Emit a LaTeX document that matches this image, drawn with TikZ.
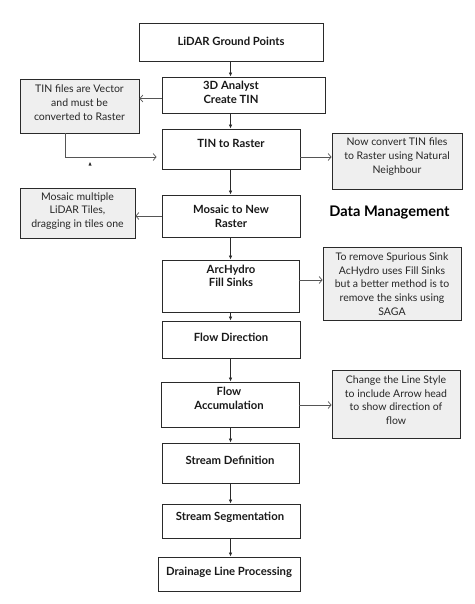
\documentclass[tikz,border=0pt]{standalone}
\usepackage{fontspec}
\setmainfont{Lato}
\usetikzlibrary{arrows.meta}
\definecolor{edge}{HTML}{2A2A2A}
\definecolor{notefill}{HTML}{EFEFEF}
\tikzset{
  proc/.style={draw=edge, line width=0.9pt, fill=white, inner sep=0pt},
  note/.style={draw=edge, line width=0.9pt, fill=notefill, inner sep=0pt},
  ptext/.style={font=\fontsize{11.3}{13.5}\selectfont\bfseries, align=center, inner sep=0pt, text=black!90},
  ntext/.style={font=\fontsize{10.5}{13.6}\selectfont, align=center, inner sep=0pt, text=black!85},
  down/.style={draw=edge, line width=0.8pt, -{Latex[length=4pt,width=3.6pt]}},
  side/.style={draw=edge!80, line width=0.7pt, -{Straight Barb[length=3pt,width=7pt]}},
}
\newcommand{\boxat}[6]{% style, name, x1, y1, x2, y2
  \node[#1, minimum width={(#5-#3)*1pt}, minimum height={(#6-#4)*1pt}] (#2) at ({(#3+#5)/2}, {(#4+#6)/2}) {};}
\begin{document}
\begin{tikzpicture}[x=1pt, y=-1pt]
\useasboundingbox (0,0) rectangle (474,604);
% main process boxes
\boxat{proc}{lidar}{139}{23}{323}{61}
\node[ptext] (tlidar) at (231,41) {LiDAR Ground Points};
\boxat{proc}{tin}{162}{77}{325}{113}
\node[ptext] (ttin) at (231,92.5) {3D Analyst\\Create TIN};
\boxat{proc}{raster}{162}{129}{300}{169}
\node[ptext] (traster) at (231,143) {TIN to Raster};
\boxat{proc}{mosaic}{162}{195}{300}{237}
\node[ptext] (tmosaic) at (231,216.5) {Mosaic to New\\Raster};
\boxat{proc}{fill}{162}{260}{299}{312}
\node[ptext] (tfill) at (231,276) {ArcHydro\\Fill Sinks};
\boxat{proc}{fdir}{162}{321}{300}{358}
\node[ptext] (tfdir) at (231,337) {Flow Direction};
\boxat{proc}{facc}{161}{382}{299}{427}
\node[ptext] (tfacc) at (229,398.5) {Flow\\Accumulation};
\boxat{proc}{sdef}{162}{443}{299}{483}
\node[ptext] (tsdef) at (230,460) {Stream Definition};
\boxat{proc}{sseg}{162}{504}{300}{538}
\node[ptext] (tsseg) at (230,517.5) {Stream Segmentation};
\boxat{proc}{drain}{158}{557}{300}{591}
\node[ptext] (tdrain) at (229,572) {Drainage Line Processing};
% notes
\boxat{note}{n1}{20}{79}{139}{133}
\node[ntext] (tn1) at (79.5,102.7) {TIN files are Vector\\and must be\\converted to Raster};
\boxat{note}{n2}{332}{133}{462}{189}
\node[ntext] (tn2) at (397,156.5) {Now convert TIN files\\to Raster using Natural\\Neighbour};
\boxat{note}{n3}{20}{188}{135}{238}
\node[ntext] (tn3) at (77.5,211) {Mosaic multiple\\LiDAR Tiles,\\dragging in tiles one};
\boxat{note}{n4}{323}{247}{461}{320}
\node[ntext] (tn4) at (392,284) {To remove Spurious Sink\\AcHydro uses Fill Sinks\\but a better method is to\\remove the sinks using\\SAGA};
\boxat{note}{n5}{332}{370}{460}{438}
\node[ntext] (tn5) at (396,400) {Change the Line Style\\to include Arrow head\\to show direction of\\flow};
% title
\node[font=\fontsize{14.6}{17}\selectfont\bfseries, inner sep=0pt] (title) at (389.5,213) {Data Management};
% spine
\coordinate (sp) at (230.5,0);
\draw[down] (lidar.south -| sp) -- (tin.north -| sp);
\draw[down] (tin.south -| sp) -- (raster.north -| sp);
\draw[down] (raster.south -| sp) -- (mosaic.north -| sp);
\draw[down] (mosaic.south -| sp) -- (fill.north -| sp);
\draw[down] (fill.south -| sp) -- (fdir.north -| sp);
\draw[down] (fdir.south -| sp) -- (facc.north -| sp);
\draw[down] (facc.south -| sp) -- (sdef.north -| sp);
\draw[down] (sdef.south -| sp) -- (sseg.north -| sp);
\draw[down] (sseg.south -| sp) -- (drain.north -| sp);
% side arrows
\coordinate (y1) at (0,98.5);
\draw[side] (tin.west |- y1) -- (n1.east |- y1);
\coordinate (x1) at (65,0);
\coordinate (y2) at (0,157);
\draw[side, shorten >=5pt] (n1.south -| x1) |- (raster.west |- y2);
\draw[side] (raster.east |- y2) -- (n2.west |- y2);
\coordinate (y3) at (0,216);
\draw[side] (mosaic.west |- y3) -- (n3.east |- y3);
\coordinate (y4) at (0,280);
\draw[side] (fill.east |- y4) -- (n4.west |- y4);
\coordinate (y5) at (0,405);
\draw[side] (facc.east |- y5) -- (n5.west |- y5);
% stray mark
\fill[edge] (88.5,165.5) -- (91.5,165.5) -- (90,162) -- cycle;
\end{tikzpicture}
\end{document}
